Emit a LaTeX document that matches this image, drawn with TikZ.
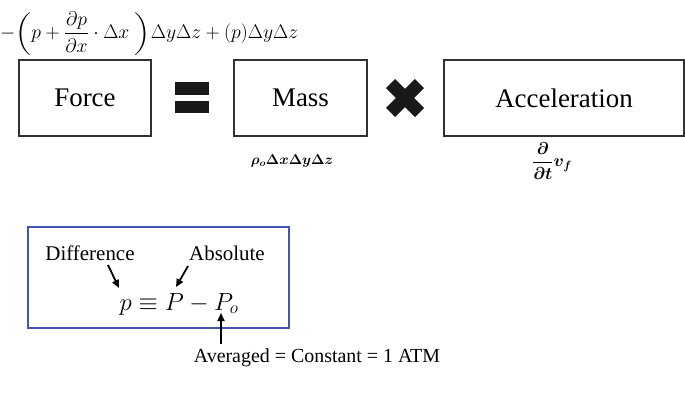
\documentclass[tikz,border=0pt]{standalone}
\usepackage{amsmath,amssymb,bm}
\usepackage{fontspec}
\setmainfont{Liberation Serif}
\usetikzlibrary{arrows.meta}
\definecolor{frameblue}{RGB}{68,84,180}
\definecolor{boxgray}{RGB}{50,50,50}
\newcommand{\shortparen}[1]{\mathopen{\scalebox{1}[0.82]{$\biggl#1$}}}
\newcommand{\shortparenr}[1]{\mathclose{\scalebox{1}[0.82]{$\biggr#1$}}}
\begin{document}
\begin{tikzpicture}[x=1bp,y=-1bp,
  bigbox/.style={draw=boxgray,line width=1.3bp,minimum height=76bp,inner sep=0pt,font=\fontsize{27}{30}\selectfont},
  lbl/.style={inner sep=0pt,font=\fontsize{21}{24}\selectfont},
  ptr/.style={line width=1.8bp,-{Triangle[length=8bp,width=7bp]}},
  solidmark/.style={fill=black!90}]
\useasboundingbox (0,0) rectangle (685,415);
% top formula
\node[anchor=base west,inner sep=0pt] (eqtop) at (0,38.5)
  {\resizebox{298bp}{!}{\fontsize{19}{22}\selectfont$-\shortparen(p+\dfrac{\partial p}{\partial x}\cdot\Delta x\;\shortparenr)\Delta y\Delta z+(p)\Delta y\Delta z$}};
% boxes
\node[bigbox,minimum width=132bp] (force) at (85,98) {Force};
\node[bigbox,minimum width=133bp] (mass) at (300.5,98) {Mass};
\node[bigbox,minimum width=240bp] (accel) at (564,98) {Acceleration};
% equal sign
\fill[solidmark] (175,82) rectangle (209,95);
\fill[solidmark] (175,101) rectangle (209,113);
% times sign
\fill[solidmark,rotate around={45:(405,98)}] (384.5,91.5) rectangle (425.5,104.5);
\fill[solidmark,rotate around={-45:(405,98)}] (384.5,91.5) rectangle (425.5,104.5);
% formulas below boxes
\node[inner sep=0pt,font=\fontsize{14.5}{18}\selectfont] (rho) at (292,161) {$\bm{\rho_o\Delta x\Delta y\Delta z}$};
\node[inner sep=0pt,font=\fontsize{17}{20}\selectfont] (dvdt) at (552,161) {$\bm{\dfrac{\partial}{\partial t}v_f}$};
% definition box
\node[draw=frameblue,line width=1.2bp,minimum width=261bp,minimum height=101bp,inner sep=0pt] (defbox) at (158.5,277.5) {};
\node[lbl] (diff) at (90,253) {Difference};
\node[lbl] (abs) at (227,253) {Absolute};
\node[anchor=base,inner sep=0pt,font=\fontsize{24}{28}\selectfont] (pdef) at (179,310) {$p\equiv P-P_o$};
\coordinate (dtail) at (108,265);
\coordinate (dhead) at (119,288);
\coordinate (atail) at (188,266);
\coordinate (ahead) at (176,287);
\draw[ptr] (dtail) -- (dhead);
\draw[ptr] (atail) -- (ahead);
\node[inner sep=0pt,font=\fontsize{20}{24}\selectfont] (avg) at (317,358) {Averaged = Constant = 1 ATM};
\coordinate (utail) at (221,344);
\coordinate (uhead) at (221,313);
\draw[ptr] (utail) -- (uhead);
\end{tikzpicture}
\end{document}
